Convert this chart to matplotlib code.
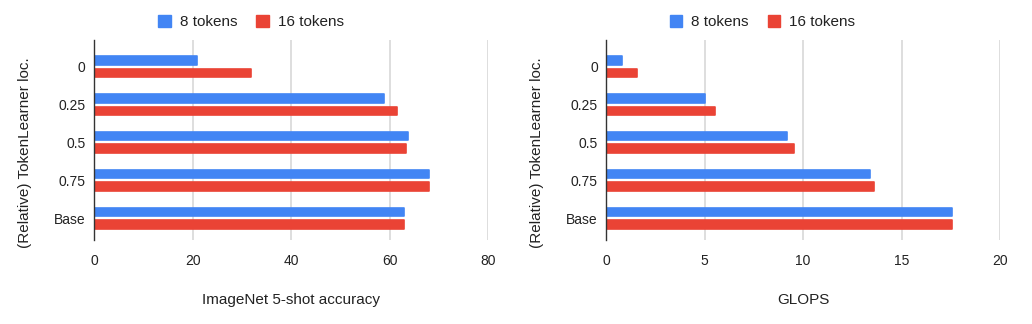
import matplotlib
matplotlib.use("Agg")
import matplotlib.pyplot as plt
import numpy as np
from matplotlib.patches import Patch

plt.rcParams['font.family'] = ['Liberation Sans', 'DejaVu Sans']

categories = ["0", "0.25", "0.5", "0.75", "Base"]
series_names = ["8 tokens", "16 tokens"]
acc_8 = [20.9, 58.9, 63.7, 67.9, 62.9]
acc_16 = [31.8, 61.4, 63.4, 67.9, 62.9]
glops_8 = [0.81, 5.03, 9.2, 13.41, 17.57]
glops_16 = [1.54, 5.54, 9.52, 13.59, 17.57]
acc_ticks = [0, 20, 40, 60, 80]
glops_ticks = [0, 5, 10, 15, 20]

BLUE = "#4285F4"
RED = "#EA4335"
TXT = "#222222"

W, H = 1032, 324
fig = plt.figure(figsize=(W / 100, H / 100), dpi=100)


def make_panel(x0, x1, s8, s16, ticks, xlabel, ylabel_x, legend_cx):
    ax = fig.add_axes([x0 / W, 1 - 240 / H, (x1 - x0) / W, 200 / H])
    y = np.arange(len(categories))
    off = 0.165
    h = 0.225
    ax.barh(y - off, s8, height=h, color=BLUE, edgecolor=BLUE, linewidth=1.2,
            joinstyle='round', zorder=3)
    ax.barh(y + off, s16, height=h, color=RED, edgecolor=RED, linewidth=1.2,
            joinstyle='round', zorder=3)
    ax.set_xlim(ticks[0], ticks[-1])
    ax.set_ylim(4.573, -0.704)
    ax.set_xticks(ticks)
    ax.set_xticklabels([str(t) for t in ticks])
    ax.set_yticks(y)
    ax.set_yticklabels(categories)
    ax.tick_params(axis='both', length=0, labelsize=10, colors=TXT)
    ax.tick_params(axis='x', pad=10)
    ax.tick_params(axis='y', pad=6)
    ax.grid(axis='x', color='#d4d4d4', linewidth=1.1, zorder=0)
    ax.set_axisbelow(True)
    for s in ['top', 'right', 'bottom']:
        ax.spines[s].set_visible(False)
    ax.spines['left'].set_color('#333333')
    ax.spines['left'].set_linewidth(1)
    ax.spines['left'].set_zorder(4)
    fig.text(((x0 + x1) / 2) / W, 1 - 300 / H, xlabel, ha='center', va='center',
             fontsize=11, color=TXT)
    fig.text(ylabel_x / W, 1 - 153 / H, "(Relative) TokenLearner loc.", rotation=90,
             ha='center', va='center', fontsize=11, color=TXT)
    handles = [Patch(facecolor=BLUE, edgecolor=BLUE), Patch(facecolor=RED, edgecolor=RED)]
    fig.legend(handles, series_names, loc='center', ncol=2,
               bbox_to_anchor=(legend_cx / W, 1 - 22 / H), frameon=False,
               fontsize=11, handlelength=0.8, handleheight=0.8,
               handletextpad=0.6, columnspacing=1.25, labelcolor=TXT)
    return ax


make_panel(94, 488.3, acc_8, acc_16, acc_ticks, "ImageNet 5-shot accuracy", 25, 251)
make_panel(606.3, 1000, glops_8, glops_16, glops_ticks, "GLOPS", 537, 762.5)

fig.savefig("out.png", dpi=100, facecolor='white')
